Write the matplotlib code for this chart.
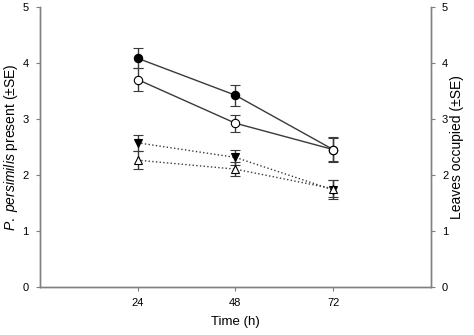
import matplotlib
matplotlib.use("Agg")
import matplotlib.pyplot as plt

plt.rcParams['font.family'] = ['Liberation Sans', 'DejaVu Sans']
plt.rcParams['mathtext.fontset'] = 'custom'
plt.rcParams['mathtext.it'] = 'Liberation Sans:italic'
plt.rcParams['mathtext.rm'] = 'Liberation Sans'

hours = [24, 48, 72]

# P. persimilis present
filled_circle = [4.08, 3.42, 2.45]
filled_circle_se = [0.18, 0.19, 0.2]
open_circle = [3.70, 2.92, 2.45]
open_circle_se = [0.21, 0.15, 0.22]

# leaves occupied
filled_tri = [2.57, 2.31, 1.73]
filled_tri_se = [0.14, 0.13, 0.17]
open_tri = [2.26, 2.10, 1.75]
open_tri_se = [0.16, 0.13, 0.15]

grey = "#808080"
dark = "#3a3a3a"

fig = plt.figure(figsize=(4.74, 3.35), dpi=100)
ax = fig.add_axes([0.084, 0.144, 0.825, 0.836])

series = [
    (filled_circle, filled_circle_se, "o", "black", "-"),
    (open_circle, open_circle_se, "o", "white", "-"),
    (filled_tri, filled_tri_se, "v", "black", ":"),
    (open_tri, open_tri_se, "^", "white", ":"),
]
for vals, se, mk, fc, ls in series:
    ax.errorbar(hours, vals, yerr=se, marker=mk, markersize=6,
                markerfacecolor=fc, markeredgecolor="black", markeredgewidth=0.8,
                color=dark, linestyle=ls, linewidth=1.0,
                ecolor=dark, elinewidth=1.0, capsize=3.6, capthick=1.0)

ax.set_xlim(0, 96)
ax.set_ylim(0, 5)
ax.set_xticks(hours)
ax.set_yticks(range(0, 6))
ax.set_xlabel("Time (h)", fontsize=9.5, labelpad=6)
ax.set_ylabel(r"$\it{P.\ persimilis}$ present (±SE)", fontsize=10, labelpad=2)

ax2 = ax.twinx()
ax2.set_ylim(0, 5)
ax2.set_yticks(range(0, 6))
ax2.set_ylabel("Leaves occupied (±SE)", fontsize=10, labelpad=1)

for a in (ax, ax2):
    a.spines["top"].set_visible(False)
    for s in ("left", "right", "bottom"):
        a.spines[s].set_color(grey)
        a.spines[s].set_linewidth(1.0)
    a.tick_params(direction="out", length=3, width=0.8, color=grey,
                  labelsize=8, pad=5)

plt.savefig("out.png", dpi=100)
